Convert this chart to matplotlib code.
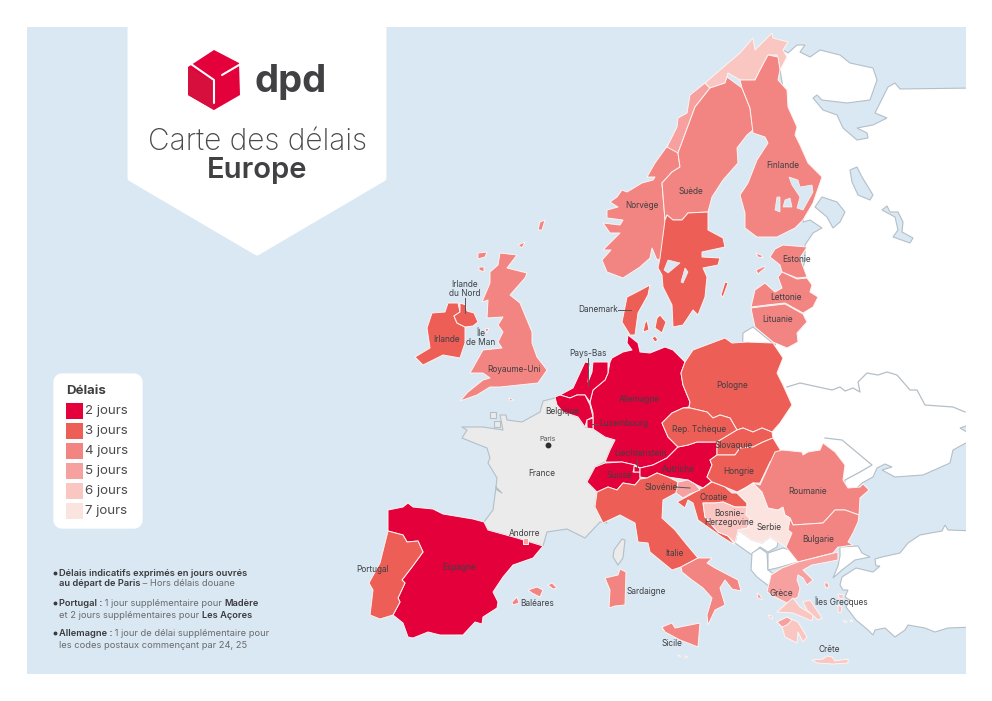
import matplotlib
matplotlib.use("Agg")
import matplotlib.pyplot as plt
from matplotlib.patches import Polygon, Rectangle, FancyBboxPatch

plt.rcParams['font.family'] = ['Inter', 'DejaVu Sans']

SEA = '#d9e8f3'; GREY = '#ebebeb'; EDGE = '#b4bfc7'; TXT = '#3f3f42'
C2 = '#e4003a'; C3 = '#ec5e56'; C4 = '#f28482'; C5 = '#f6a09f'; C6 = '#fac6c2'; C7 = '#fbe3e0'

delay_labels = ['2 jours', '3 jours', '4 jours', '5 jours', '6 jours', '7 jours']
delay_colors = [C2, C3, C4, C5, C6, C7]

# ---- outlines (pixel coordinates of the map) ----
russia = [(780,70),(783,50),(788,53),(797,45),(805,45),(800,52),(810,57),(820,50),(840,55),(850,63),(873,68),(877,80),(870,100),(847,103),(822,100),(817,95),(813,98),(823,110),(837,115),(843,128),(857,140),(868,138),(867,133),(857,128),(873,125),(887,118),(875,113),(888,87),(895,83),(900,89),(975,88),(975,438),(953,450),(950,463),(923,475),(895,477),(882,470),(892,467),(885,464),(877,468),(873,477),(862,483),(850,495),(790,490),(740,420),(743,333),(753,327),(775,345),(790,320),(805,260),(805,245),(813,233),(822,228),(810,220),(803,222),(805,190),(790,130)]
ladoga = [(815,207),(822,197),(837,202),(845,212),(840,222),(833,228),(827,217)]
onega = [(850,170),(857,167),(862,177),(873,195),(870,200),(858,195),(852,182)]
rybinsk = [(882,210),(887,206),(890,212),(898,212),(903,222),(902,232),(913,238),(910,243),(893,237),(898,230),(895,217)]
azov = [(975,423),(960,428),(975,437)]
ukraine_line = [(787,387),(800,383),(832,390),(840,387),(845,391),(853,388),(860,392),(858,382),(867,373),(878,375),(887,372),(897,375),(910,390),(917,390),(925,405),(953,407),(965,412)]
moldova_line = [(825,438),(842,440),(860,455),(872,465),(860,472),(845,480),(844,486)]
turkey_asia = [(975,531),(948,530),(945,525),(942,531),(920,535),(908,543),(900,553),(882,557),(875,559),(876,566),(880,566),(873,572),(856,568),(842,577),(840,585),(843,590),(848,590),(845,597),(850,600),(846,607),(850,612),(856,620),(862,625),(868,630),(873,635),(875,630),(885,628),(895,637),(905,630),(908,625),(925,628),(935,632),(948,628),(975,627)]
turkey_eur = [(840,547),(858,546),(862,553),(870,557),(855,560),(842,570),(833,578),(838,566),(840,556)]
montenegro_kosovo = [(738,530),(752,540),(762,543),(770,537),(778,542),(777,547),(768,552),(760,547),(752,555),(735,543)]
albania = [(752,553),(760,548),(767,553),(768,570),(775,575),(770,587),(757,577),(751,570)]
macedonia = [(768,553),(783,548),(790,550),(798,562),(777,568),(768,570)]

france = [(555,398),(543,401),(540,412),(522,422),(507,420),(506,415),(500,415),(503,430),(483,427),(462,427),(467,430),(462,438),(487,448),(490,458),(488,463),(497,478),(496,487),(502,493),(497,490),(496,487),(493,510),(484,522),(488,530),(517,538),(543,546),(547,532),(567,529),(585,538),(600,522),(607,523),(595,507),(597,492),(587,482),(595,467),(605,462),(610,450),(615,440),(605,437),(593,429),(585,427),(578,417),(563,412)]
corsica = [(622,539),(625,540),(623,558),(618,565),(613,557),(614,550)]
jersey = [(490,412),(496,412),(496,418),(490,418)]
guernsey = [(494,421),(500,421),(500,427),(494,427)]

spain = [(388,510),(403,507),(408,503),(413,507),(433,509),(443,514),(473,519),(484,522),(488,530),(517,538),(543,546),(533,558),(513,565),(503,577),(493,592),(498,602),(497,608),(483,617),(482,624),(475,622),(463,635),(440,635),(428,632),(413,638),(408,637),(403,623),(393,615),(400,602),(398,598),(405,583),(402,580),(412,567),(423,552),(418,541),(407,542),(403,535),(388,531)]
portugal = [(388,531),(403,535),(407,542),(418,541),(423,552),(412,567),(402,580),(405,583),(398,598),(400,602),(393,615),(380,619),(370,615),(373,590),(369,583),(380,563)]
andorra = [(523,538),(528,538),(528,544),(523,544)]
majorca = [(528,590),(537,587),(543,590),(540,597),(532,593)]
ibiza = [(512,602),(517,597),(519,603),(513,605)]
menorca = [(548,585),(552,583),(557,588),(553,589)]

germany = [(628,335),(638,343),(640,352),(650,353),(665,347),(673,350),(685,362),(681,373),(683,385),(690,402),(689,407),(683,408),(672,413),(662,423),(668,437),(678,447),(667,458),(653,465),(640,468),(635,465),(622,462),(605,462),(610,450),(615,440),(605,437),(593,429),(593,418),(593,413),(590,402),(593,390),(605,380),(608,373),(610,362),(612,358),(623,352),(632,350),(627,343)]
netherlands = [(585,362),(573,388),(560,395),(570,398),(577,395),(585,395),(590,402),(593,390),(605,380),(608,373),(608,362),(593,362),(592,372),(588,382),(590,363)]
belgium = [(555,397),(560,395),(570,398),(577,395),(585,395),(590,405),(593,417),(587,420),(585,427),(578,417),(563,412),(557,405)]
luxembourg = [(587,420),(593,418),(593,429),(587,428)]
switzerland = [(605,463),(622,462),(635,465),(633,472),(640,472),(640,479),(635,485),(623,483),(617,490),(608,487),(597,492),(587,482),(595,467)]
liechtenstein = [(634,466),(640,468),(640,472),(634,472)]
austria = [(678,447),(688,445),(697,442),(717,442),(717,455),(710,460),(712,465),(707,477),(712,481),(703,488),(695,484),(688,480),(668,477),(657,473),(647,478),(640,477),(640,468),(653,465),(667,458)]
poland = [(685,362),(693,350),(725,338),(732,343),(747,342),(773,343),(783,358),(777,373),(783,385),(792,405),(780,423),(772,432),(762,428),(753,432),(743,428),(737,430),(730,418),(720,415),(713,418),(707,412),(690,408),(689,407),(690,402),(683,385),(681,373)]
czechia = [(662,423),(672,413),(683,408),(690,408),(707,412),(713,418),(720,415),(730,418),(737,430),(717,442),(697,442),(688,445),(678,447),(668,437)]
slovakia = [(737,430),(743,428),(753,432),(762,428),(772,432),(773,438),(763,442),(753,447),(740,448),(735,455),(717,455),(717,442)]
hungary = [(717,455),(735,455),(740,448),(753,447),(763,442),(773,438),(781,451),(770,462),(760,483),(753,483),(747,487),(737,492),(725,487),(712,482),(707,477),(712,465),(710,460)]
slovenia = [(678,482),(688,480),(695,484),(700,490),(690,494),(683,498),(676,493)]
croatia = [(712,482),(725,487),(732,493),(737,493),(747,503),(747,507),(735,507),(723,502),(715,503),(703,503),(705,517),(718,532),(728,536),(735,545),(722,537),(698,520),(693,503),(688,500),(685,508),(677,502),(690,495),(700,489),(703,488)]
bosnia = [(703,503),(715,503),(723,502),(735,507),(747,507),(746,515),(750,518),(748,528),(738,530),(735,543),(728,536),(718,532),(705,517)]
serbia = [(737,493),(753,483),(762,492),(768,508),(778,510),(783,507),(785,515),(790,520),(788,530),(792,533),(786,547),(778,542),(770,537),(762,543),(752,540),(738,530),(748,528),(750,518),(746,515),(747,507),(747,503)]
romania = [(753,483),(760,485),(775,452),(782,450),(802,452),(803,455),(808,452),(820,450),(823,443),(835,452),(845,465),(843,480),(848,488),(860,487),(863,484),(869,490),(860,498),(859,515),(845,510),(835,510),(823,523),(793,525),(790,518),(785,515),(783,507),(778,510),(768,508),(762,492)]
bulgaria = [(785,515),(790,518),(793,525),(823,523),(835,510),(845,510),(859,515),(858,522),(853,533),(848,542),(853,545),(840,547),(838,547),(833,553),(798,562),(786,547),(792,533),(788,530),(790,520)]
italy_north = [(597,492),(608,487),(617,490),(623,483),(635,485),(640,479),(647,478),(657,473),(668,477),(678,482),(676,493),(663,500),(662,518),(675,530),(687,545),(698,558),(681,567),(672,570),(650,552),(648,543),(638,542),(635,523),(620,515),(603,523),(595,507)]
italy_south = [(698,558),(712,558),(707,563),(715,568),(738,580),(741,591),(732,589),(725,580),(720,588),(725,605),(715,610),(708,625),(707,615),(712,598),(703,588),(692,580),(682,572),(681,567)]
sicily = [(662,627),(672,623),(675,628),(700,623),(698,647),(680,640),(665,632)]
sardinia = [(620,569),(626,572),(625,605),(615,606),(609,608),(610,590),(605,578),(618,575)]
malta = [(678,655),(681,656),(679,657)]
malta2 = [(685,656),(688,657),(685,658)]

greece_north = [(798,562),(838,552),(838,560),(812,565),(803,570),(813,580),(807,585),(803,578),(798,575),(797,580),(800,588),(798,597),(787,603),(777,598),(767,592),(771,575),(782,568)]
greece_attica = [(793,598),(800,607),(813,615),(812,621),(793,613),(777,612),(787,603)]
evia = [(803,602),(810,600),(822,618),(818,620),(807,610)]
peloponnese = [(777,622),(787,617),(798,622),(807,637),(803,642),(798,632),(797,643),(785,637),(782,627)]
peloponnese_nw = [(777,622),(787,617),(792,620),(787,625),(782,627)]
crete = [(812,660),(823,659),(827,656),(832,657),(835,661),(848,659),(848,663),(833,664),(817,663)]
lesbos = [(824,583),(828,583),(829,587),(826,588)]
ionian1 = [(757,593),(760,595),(762,600),(758,598)]
ionian2 = [(768,615),(772,616),(773,619),(770,618)]
chios = [(838,594),(844,595),(843,599),(839,598)]
samos = [(838,605),(842,607),(841,613),(838,612)]
rhodes1 = [(843,621),(847,621),(846,623)]
rhodes2 = [(850,620),(853,621),(851,622)]

norway_south = [(668,145),(655,163),(647,177),(655,177),(653,180),(642,183),(627,192),(622,190),(617,197),(610,202),(618,207),(607,210),(607,218),(623,220),(620,225),(603,223),(610,233),(620,233),(603,250),(611,250),(602,260),(607,272),(623,278),(640,267),(650,258),(652,248),(657,260),(662,258),(665,233),(665,220),(662,183),(672,172),(680,167),(678,153),(677,150)]
norway_mid = [(667,147),(677,127),(678,118),(687,113),(690,95),(705,83),(710,88),(695,107),(678,153)]
norway_north = [(705,83),(720,70),(740,53),(753,38),(755,50),(765,40),(772,33),(773,38),(788,42),(783,50),(787,57),(780,70),(777,55),(768,55),(760,70),(755,80),(740,80),(728,73),(725,83),(710,88)]
sweden_north = [(662,183),(672,172),(680,167),(678,153),(695,107),(710,88),(725,83),(727,77),(742,88),(750,108),(753,130),(747,135),(737,148),(738,163),(723,180),(712,197),(708,212),(688,213),(682,220),(673,220),(667,215),(665,220)]
sweden_south = [(667,215),(673,220),(682,220),(688,213),(708,212),(708,230),(723,238),(725,247),(702,252),(702,257),(720,258),(718,265),(703,268),(707,277),(705,297),(698,315),(693,310),(683,325),(673,327),(672,305),(663,287),(662,275),(658,268),(660,258),(665,220)]
lake_vanern = [(668,260),(680,263),(668,273),(664,270)]
lake_vattern = [(685,268),(688,272),(683,283),(681,282)]
gotland = [(725,282),(728,283),(723,297),(721,295)]
finland = [(768,55),(778,57),(780,70),(778,80),(787,90),(788,107),(797,127),(795,135),(800,145),(808,163),(822,177),(813,203),(803,220),(795,228),(777,237),(757,237),(745,228),(745,213),(740,195),(748,183),(757,160),(768,143),(765,137),(753,133),(750,108),(742,88),(740,80),(755,80),(760,70)]
saimaa = [(789,177),(798,180),(800,187),(812,185),(813,192),(803,210),(797,208),(800,197),(792,185)]
lake_f1 = [(777,197),(780,197),(780,212),(775,210)]
lake_f2 = [(785,200),(790,198),(792,207),(783,207)]
estonia = [(775,249),(783,245),(807,247),(800,258),(807,277),(797,278),(782,272),(780,265),(770,257)]
saaremaa = [(756,253),(761,255),(763,258),(758,257)]
hiiumaa = [(756,270),(765,266),(765,268),(758,274)]
latvia = [(782,272),(797,279),(807,278),(812,285),(810,292),(818,297),(813,307),(803,313),(785,303),(767,305),(751,307),(755,290),(765,283),(775,292),(782,288),(778,277)]
lithuania = [(751,308),(767,306),(785,304),(803,314),(807,322),(797,333),(798,342),(787,348),(773,342),(755,327),(753,318)]
denmark = [(650,285),(648,295),(638,313),(635,335),(630,335),(622,322),(627,297),(635,293)]
funen = [(647,320),(649,330),(643,332),(645,323)]
zealand = [(660,315),(666,322),(662,333),(655,328),(657,318)]
lolland = [(655,336),(658,340),(655,342),(652,338)]

great_britain = [(500,253),(517,255),(507,268),(527,273),(525,278),(510,295),(520,303),(532,332),(532,343),(537,357),(547,370),(538,383),(500,387),(490,387),(477,395),(460,401),(468,392),(483,380),(490,378),(483,373),(470,373),(483,350),(502,348),(498,342),(503,332),(498,325),(503,317),(487,318),(488,300),(482,302),(490,283),(490,272),(498,265)]
orkney = [(478,253),(487,252),(485,257),(478,259)]
hebrides = [(479,267),(484,267),(484,272),(479,270)]
shetland1 = [(518,245),(525,242),(522,248)]
shetland2 = [(540,222),(545,220),(542,230),(538,230)]
isle_of_man = [(485,329),(489,328),(487,333)]
wight = [(509,398),(514,400),(510,401)]
ireland = [(448,303),(458,303),(460,312),(454,316),(457,323),(465,327),(465,343),(460,358),(443,355),(423,365),(415,357),(430,348),(427,328),(432,313),(445,312)]
n_ireland = [(460,303),(466,305),(467,311),(474,313),(478,322),(473,326),(465,327),(457,323),(454,316),(460,312)]

filled = [
    (france, GREY), (corsica, GREY), (jersey, GREY), (guernsey, GREY),
    (spain, C2), (portugal, C3), (andorra, C5), (majorca, C4), (ibiza, C4), (menorca, C4),
    (germany, C2), (netherlands, C2), (belgium, C2), (luxembourg, C2), (switzerland, C2), (liechtenstein, C2), (austria, C2),
    (poland, C3), (czechia, C3), (slovakia, C3), (hungary, C3), (italy_north, C3), (croatia, C3), (slovenia, C5),
    (bosnia, C6), (serbia, C7), (romania, C4), (bulgaria, C4), (italy_south, C4), (sicily, C4), (sardinia, C4), (malta, C4), (malta2, C4),
    (greece_north, C5), (greece_attica, C6), (evia, C6), (peloponnese, C6), (peloponnese_nw, C5), (crete, C6), (lesbos, C5), (ionian1, C5), (ionian2, C6), (chios, C6), (samos, C6), (rhodes1, C6), (rhodes2, C6),
    (norway_south, C4), (norway_mid, C5), (norway_north, C6), (sweden_north, C4), (sweden_south, C3), (gotland, C3), (finland, C4),
    (estonia, C4), (saaremaa, C4), (hiiumaa, C4), (latvia, C4), (lithuania, C4), (denmark, C3), (funen, C3), (zealand, C3), (lolland, C3),
    (great_britain, C4), (orkney, C4), (hebrides, C4), (shetland1, C4), (shetland2, C4), (isle_of_man, C4), (wight, C4), (ireland, C3), (n_ireland, C3),
]
lakes = [lake_vanern, lake_vattern, saimaa, lake_f1, lake_f2]
white_outlined = [turkey_asia, turkey_eur, montenegro_kosovo, albania, macedonia]

map_names = ['Norvège','Suède','Finlande','Estonie','Lettonie','Lituanie','Danemark','Irlande\ndu Nord','Irlande','Île\nde Man','Royaume-Uni','Pays-Bas','Belgique','Allemagne','Luxembourg','Liechtenstein','Suisse','Autriche','Slovénie','Rep. Tchèque','Slovaquie','Hongrie','Pologne','Croatie','Bosnie-\nHerzegovine','Serbie','Roumanie','Bulgarie','Italie','Sardaigne','Sicile','Grèce','Îles Grecques','Crête','Baléares','Espagne','Portugal','Andorre','France']
map_name_x = [642,691,783,797,786,778,598,465,447,481,514,588,562,639,624,640,619,678,661,699,734,739,732,714,729,769,808,818,674,646,672,781,841,829,537,459,373,525,542]
map_name_y = [206,191,166,260,298,319,310,289,340,338,369,353,412,399,424,454,475,470,487,429,445,472,385,497,518,528,491,540,554,592,644,594,602,649,603,568,570,533,474]
leader_lines = [[(618,310),(631,310)], [(465,298),(465,313)], [(588,358),(588,386)], [(592,424),(598,424)], [(637,459),(637,467)], [(675,487),(690,488)]]

note_runs = [
    (59,573,[('Délais indicatifs exprimés en jours ouvrés',True)]),
    (59,584,[('au départ de Paris',True),(' – Hors délais douane',False)]),
    (59,603,[('Portugal :',True),(' 1 jour supplémentaire pour ',False),('Madère',True)]),
    (59,615,[('et 2 jours supplémentaires pour ',False),('Les Açores',True)]),
    (59,633,[('Allemagne :',True),(' 1 jour de délai supplémentaire pour',False)]),
    (59,645,[('les codes postaux commençant par 24, 25',False)]),
]
bullet_y = [573, 603, 633]

# ---- drawing ----
fig = plt.figure(figsize=(9.92, 7.01), dpi=100, facecolor='white')
ax = fig.add_axes([0, 0, 1, 1])
ax.set_xlim(0, 992); ax.set_ylim(701, 0); ax.axis('off')

sea_rect = Rectangle((27, 27), 939, 647, fc=SEA, ec='none', zorder=0)
ax.add_patch(sea_rect)
land = ax.add_patch(Polygon(russia, closed=True, fc='white', ec=EDGE, lw=0.8, zorder=1))
land.set_clip_path(sea_rect)
for lk in (ladoga, onega, rybinsk, azov):
    ax.add_patch(Polygon(lk, closed=True, fc=SEA, ec=EDGE, lw=0.8, zorder=2)).set_clip_path(sea_rect)
for ln in (ukraine_line, moldova_line):
    ax.plot(*zip(*ln), color=EDGE, lw=0.9, zorder=2)
for p in white_outlined:
    ax.add_patch(Polygon(p, closed=True, fc='white', ec=EDGE, lw=0.8, zorder=2)).set_clip_path(sea_rect)
for p, c in filled:
    grey = c == GREY
    ax.add_patch(Polygon(p, closed=True, fc=c, ec=EDGE if grey else '#fff4f2', lw=0.8 if grey else 0.7,
                         joinstyle='round', zorder=3))
for p in lakes:
    ax.add_patch(Polygon(p, closed=True, fc=SEA, ec='#fff4f2', lw=0.5, zorder=4))

# shield with logo
shield = [(131, 24), (383, 24), (383, 178), (257, 252), (131, 178)]
ax.add_patch(Polygon(shield, closed=True, fc='white', ec='white', lw=5, joinstyle='round', zorder=5))
ax.add_patch(Rectangle((120, 0), 275, 27, fc='white', ec='none', zorder=5))
ax.add_patch(Polygon([(214,50),(239,63),(240,95),(214,110),(188,95),(188,67)], closed=True, fc=C2, ec='none', zorder=6))
ax.add_patch(Polygon([(188,67),(214,82),(214,110),(188,95)], closed=True, fc='#d70f3c', ec='none', zorder=6))
ax.plot([191,214,214], [64,80,103], color='white', lw=1.5, solid_joinstyle='round', solid_capstyle='round', zorder=7)
ax.plot([222,239], [75,65], color='white', lw=1.5, solid_capstyle='round', zorder=7)
ax.text(291, 82, 'dpd', fontsize=27.5, fontweight='bold', color='#414042', ha='center', va='center', zorder=7)
ax.text(257, 142, 'Carte des délais', fontsize=21.5, color='#4a4a4d', ha='center', va='center', fontweight='light', zorder=7)
ax.text(257, 170, 'Europe', fontsize=21, color='#414042', ha='center', va='center', fontweight='semibold', zorder=7)

# legend
ax.add_patch(FancyBboxPatch((61, 381), 74, 140, boxstyle='round,pad=0,rounding_size=1', fc='white', ec='white', lw=11,
                            joinstyle='round', zorder=5))
ax.text(66, 391, 'Délais', fontsize=9.5, fontweight='bold', color=TXT, va='center', zorder=6)
for i, (lab, col) in enumerate(zip(delay_labels, delay_colors)):
    y = 403 + i * 20
    ax.add_patch(Rectangle((66, y), 17, 16, fc=col, ec='none', zorder=6))
    ax.text(85, y + 8, lab, fontsize=9.6, color='#4a4a4d', va='center', zorder=6)

# labels
for name, x, y in zip(map_names, map_name_x, map_name_y):
    ax.text(x, y, name, fontsize=6, color=TXT, ha='center', va='center', linespacing=1.05, zorder=8)
for ln in leader_lines:
    ax.plot(*zip(*ln), color='#555558', lw=0.7, zorder=8)
ax.text(548, 439, 'Paris', fontsize=5, color='#555558', ha='center', va='center', zorder=8)
ax.plot([548], [445], 'o', ms=3.2, color='#2d2d2d', zorder=8)

# notes
fig.canvas.draw()
rend = fig.canvas.get_renderer()
for x0, y, runs in note_runs:
    x = x0
    for s, bold in runs:
        t = ax.text(x, y, s.replace(' ', '\u00a0'), fontsize=6.7, fontweight='semibold' if bold else 'normal',
                    color='#3a3a3d' if bold else '#6a6a6d', va='center', zorder=8)
        x = t.get_window_extent(rend).x1
for y in bullet_y:
    ax.plot([54.5], [y], 'o', ms=1.8, color='#3a3a3d', zorder=8)

fig.savefig('out.png', dpi=100, facecolor='white')
